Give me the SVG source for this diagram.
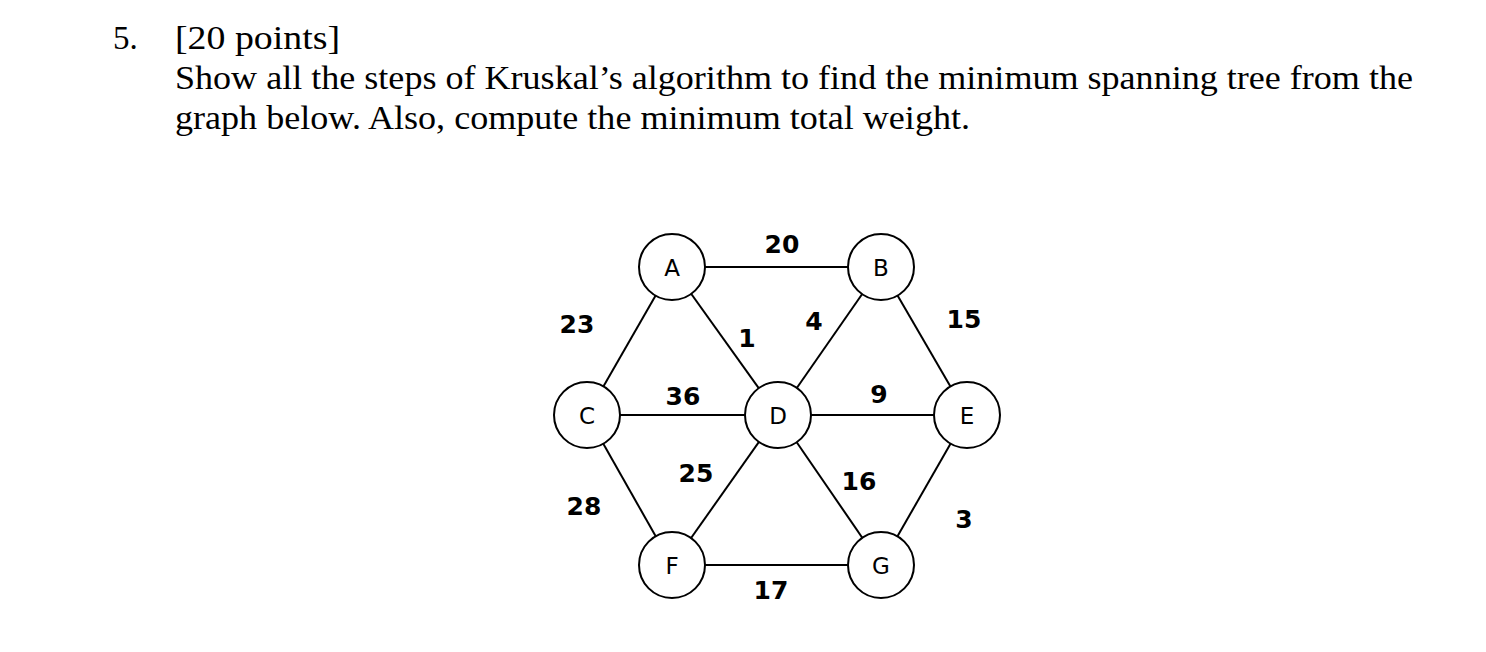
<svg xmlns="http://www.w3.org/2000/svg" width="1486" height="652" viewBox="0 0 1486 652">
<style>
.t{font-family:"Liberation Serif",serif;font-size:33px;fill:#000}
.n circle{fill:#fff;stroke:#000;stroke-width:2}
.n text{font-family:"DejaVu Sans",sans-serif;font-size:23px;text-anchor:middle}
.w{font-family:"DejaVu Sans",sans-serif;font-weight:bold;font-size:25px;text-anchor:middle}
#edges line{stroke:#000;stroke-width:2}
</style>
<rect width="1486" height="652" fill="#fff"/>
<text class="t" x="113" y="49">5.</text>
<text class="t" x="175" y="49" textLength="165" lengthAdjust="spacingAndGlyphs">[20 points]</text>
<text class="t" x="175" y="89" textLength="1238" lengthAdjust="spacingAndGlyphs">Show all the steps of Kruskal’s algorithm to find the minimum spanning tree from the</text>
<text class="t" x="175" y="129" textLength="795" lengthAdjust="spacingAndGlyphs">graph below. Also, compute the minimum total weight.</text>
<g id="edges">
<line x1="672" y1="267" x2="881" y2="267"/>
<line x1="672" y1="267" x2="587" y2="415"/>
<line x1="672" y1="267" x2="778" y2="415"/>
<line x1="881" y1="267" x2="778" y2="415"/>
<line x1="881" y1="267" x2="967" y2="415"/>
<line x1="587" y1="415" x2="778" y2="415"/>
<line x1="778" y1="415" x2="967" y2="415"/>
<line x1="587" y1="415" x2="672" y2="565"/>
<line x1="778" y1="415" x2="672" y2="565"/>
<line x1="778" y1="415" x2="881" y2="565"/>
<line x1="967" y1="415" x2="881" y2="565"/>
<line x1="672" y1="565" x2="881" y2="565"/>
</g>
<g id="labels">
<text class="w" x="782" y="253">20</text>
<text class="w" x="577" y="333">23</text>
<text class="w" x="747" y="347">1</text>
<text class="w" x="814" y="330">4</text>
<text class="w" x="964" y="328">15</text>
<text class="w" x="683" y="405">36</text>
<text class="w" x="879" y="403">9</text>
<text class="w" x="696" y="482">25</text>
<text class="w" x="859" y="490">16</text>
<text class="w" x="584" y="515">28</text>
<text class="w" x="964" y="528">3</text>
<text class="w" x="771" y="599">17</text>
</g>
<g id="A" class="n"><circle cx="672" cy="267" r="33"/><text x="672" y="276">A</text></g>
<g id="B" class="n"><circle cx="881" cy="267" r="33"/><text x="881" y="276">B</text></g>
<g id="C" class="n"><circle cx="587" cy="415" r="33"/><text x="587" y="424">C</text></g>
<g id="D" class="n"><circle cx="778" cy="415" r="33"/><text x="778" y="424">D</text></g>
<g id="E" class="n"><circle cx="967" cy="415" r="33"/><text x="967" y="424">E</text></g>
<g id="F" class="n"><circle cx="672" cy="565" r="33"/><text x="672" y="574">F</text></g>
<g id="G" class="n"><circle cx="881" cy="565" r="33"/><text x="881" y="574">G</text></g>
</svg>
